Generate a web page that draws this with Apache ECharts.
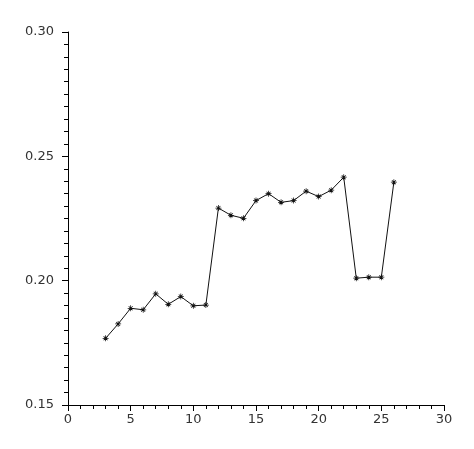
<!DOCTYPE html>
<html>
<head>
<meta charset="utf-8">
<script src="https://cdn.jsdelivr.net/npm/echarts@6/dist/echarts.min.js"></script>
<style>
  html, body { margin: 0; padding: 0; background: #fff; }
  #chart { width: 474px; height: 449px; }
</style>
</head>
<body>
<div id="chart"></div>
<script>
// values
var xValues = [3, 4, 5, 6, 7, 8, 9, 10, 11, 12, 13, 14, 15, 16, 17, 18, 19, 20, 21, 22, 23, 24, 25, 26];
var yValues = [0.1768, 0.1826, 0.1889, 0.1883, 0.1947, 0.1905, 0.1936, 0.1899, 0.1902, 0.2292,
  0.2263, 0.2251, 0.2322, 0.2350, 0.2315, 0.2322, 0.2360, 0.2338, 0.2364, 0.2416,
  0.2010, 0.2014, 0.2014, 0.2396];

var points = xValues.map(function (x, i) { return [x, yValues[i]]; });

// asterisk marker
var star = 'path://M-0.5,-4 L0.5,-4 L0.5,4 L-0.5,4 Z M-4,-0.5 L4,-0.5 L4,0.5 L-4,0.5 Z ' +
  'M-3,-2.3 L-2.3,-3 L3,2.3 L2.3,3 Z M2.3,-3 L3,-2.3 L-2.3,3 L-3,2.3 Z';

var chart = echarts.init(document.getElementById('chart'), null, { renderer: 'canvas' });

var axisText = { color: '#333', fontFamily: 'DejaVu Sans', fontSize: 13 };

chart.setOption({
  animation: false,
  grid: { left: 68, right: 30, top: 32, bottom: 44, containLabel: false },
  xAxis: {
    type: 'value',
    min: 0,
    max: 30,
    interval: 5,
    splitLine: { show: false },
    axisLine: { lineStyle: { color: '#000', width: 1 } },
    axisTick: { show: true, length: 6, lineStyle: { color: '#000' } },
    minorTick: { show: true, splitNumber: 5, length: 4, lineStyle: { color: '#000' } },
    axisLabel: Object.assign({ margin: 8 }, axisText)
  },
  yAxis: {
    type: 'value',
    min: 0.15,
    max: 0.30,
    interval: 0.05,
    splitLine: { show: false },
    axisLine: { show: true, lineStyle: { color: '#000', width: 1 } },
    axisTick: { show: true, length: 6, lineStyle: { color: '#000' } },
    minorTick: { show: true, splitNumber: 10, length: 4, lineStyle: { color: '#000' } },
    axisLabel: Object.assign({ margin: 14, formatter: function (v) { return v.toFixed(2); } }, axisText)
  },
  series: [{
    type: 'line',
    data: points,
    symbol: star,
    symbolSize: 6,
    showAllSymbol: true,
    lineStyle: { color: '#111', width: 1 },
    itemStyle: { color: '#111' }
  }]
});
</script>
</body>
</html>
